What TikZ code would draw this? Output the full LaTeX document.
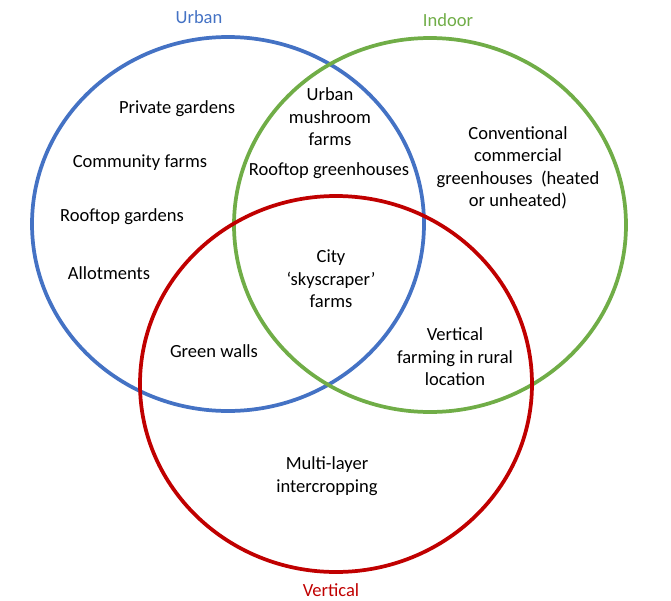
\documentclass[tikz,border=0pt]{standalone}
\usepackage{fontspec}
\setmainfont{Carlito}
\definecolor{urbanblue}{HTML}{4472C4}
\definecolor{indoorgreen}{HTML}{70AD47}
\definecolor{verticalred}{HTML}{C00000}
\tikzset{%
	ring/.style={line width=2.8pt},
	item/.style={align=center,inner sep=0pt,font=\fontsize{13.9}{16.9}\selectfont},
	setname/.style={inner sep=0pt,font=\fontsize{13.9}{16}\selectfont},
}

\begin{document}
\begin{tikzpicture}[x=0.75pt,y=-0.75pt]
			\useasboundingbox (0,0) rectangle (671,600);
			
			%CIRCLES
			\draw[urbanblue, ring] (228,224) ellipse [x radius=196, y radius=187]; %urban
			\draw[indoorgreen, ring] (430,225) ellipse [x radius=196, y radius=187]; %indoor
			\draw[verticalred, ring] (336,384) ellipse [x radius=196, y radius=188]; %vertical
			
			%SET NAMES
			\node[setname, text=urbanblue] (urban) at (199,17) {Urban};
			\node[setname, text=indoorgreen] (indoor) at (448,20) {Indoor};
			\node[setname, text=verticalred] (vertical) at (331,590) {Vertical};
			
			%URBAN ONLY
			\node[item] (private) at (177,109) {Private gardens};
			\node[item] (community) at (140,163) {Community farms};
			\node[item] (rooftopg) at (122,217) {Rooftop gardens};
			\node[item] (allot) at (109,273) {Allotments};
			
			%URBAN + INDOOR
			\node[item] (mushroom) at (330,117) {Urban\\mushroom\\farms};
			\node[item] (rooftoph) at (329,171) {Rooftop greenhouses};
			
			%INDOOR ONLY
			\node[item] (conv) at (518,168) {Conventional\\commercial\\greenhouses~ (heated\\or unheated)};
			
			%ALL THREE
			\node[item] (city) at (331,279) {City\\‘skyscraper’\\farms};
			
			%URBAN + VERTICAL
			\node[item] (walls) at (214,351) {Green walls};
			
			%INDOOR + VERTICAL
			\node[item] (rural) at (455,357) {Vertical\\farming in rural\\location};
			
			%VERTICAL ONLY
			\node[item] (multi) at (327,476) {Multi-layer\\intercropping};
			
\end{tikzpicture}
\end{document}
